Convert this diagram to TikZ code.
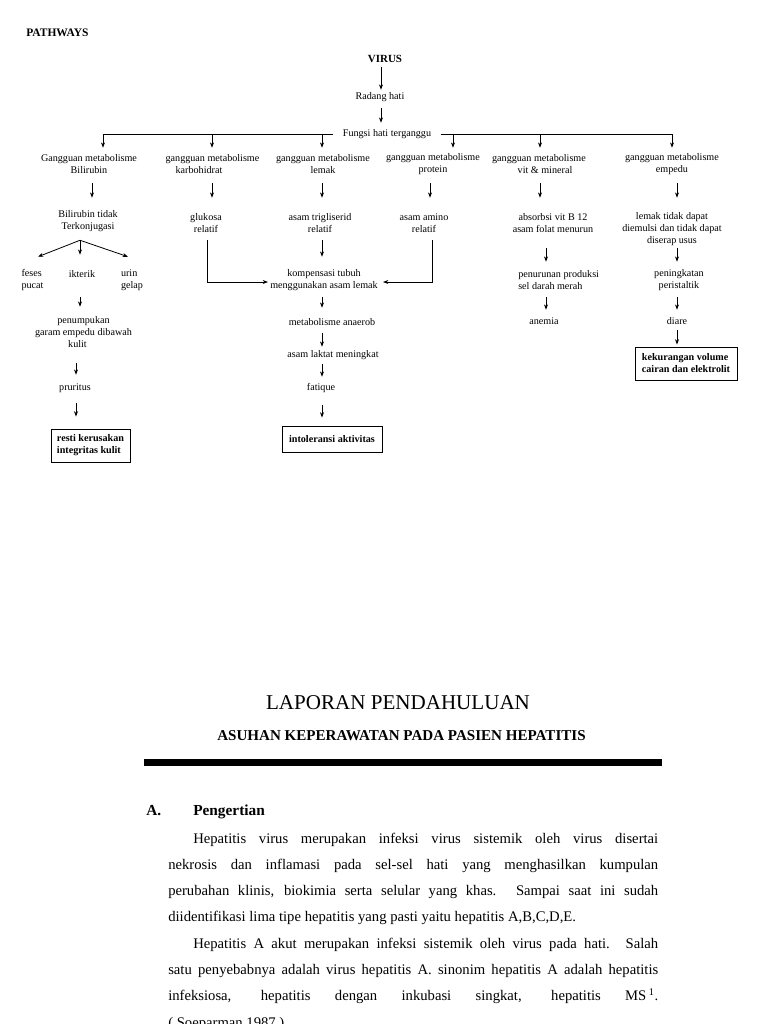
\documentclass[tikz,border=0pt]{standalone}
\usepackage{fontspec}
\setmainfont{Liberation Serif}
\usetikzlibrary{arrows.meta,calc}
\newcommand\dfont{\fontsize{7.6}{9}\selectfont}
\newcommand\dbfont{\fontsize{7.6}{9}\selectfont\bfseries}
\newcommand\bodyfont{\fontsize{11}{13}\selectfont}
\newcommand\varr[5]{\draw[arr] ($(#1.south)+(#3,#4)$) -- ($(#1.south |- #2.north)+(#3,-#5)$);}
\tikzset{
 tx/.style={inner sep=0pt, align=center, font=\dfont},
 lnA/.style={minimum height=9pt},
 lnB/.style={minimum height=18pt},
 lnC/.style={minimum height=27pt},
 arr/.style={line width=0.6pt, -{Stealth[length=4pt,width=3pt]}},
 bus/.style={line width=0.6pt},
 box/.style={draw, line width=0.7pt, font=\dbfont, align=left, inner xsep=4pt, inner ysep=0pt},
 body/.style={inner sep=0pt, anchor=base west, font=\bodyfont},
}
\begin{document}
\begin{tikzpicture}[x=0.75pt,y=-0.75pt]
\fill[white] (0,0) rectangle (768,1024);
\useasboundingbox (0,0) rectangle (768,1024);
\clip (0,0) rectangle (768,1024);

% header
\node[tx,lnA,anchor=west,font=\fontsize{8.6}{10}\selectfont\bfseries] (pw) at (26,33) {PATHWAYS};
\node[tx,lnA,font=\fontsize{8.2}{10}\selectfont\bfseries] (virus) at (385,59) {VIRUS};
\node[tx,lnA] (radang) at (380,97) {Radang hati};
\node[tx,lnA] (fungsi) at (387,134) {Fungsi hati terganggu};
\varr{virus}{radang}{-4}{2}{1}
\varr{radang}{fungsi}{1}{5}{5}

% bus
\coordinate (d1) at (103,134);
\coordinate (d2) at (212,134);
\coordinate (d3) at (322,134);
\coordinate (d4) at (453,134);
\coordinate (d5) at (540,134);
\coordinate (d6) at (672,134);
\draw[bus] ([xshift=-7pt]fungsi.west) -- (d1);
\draw[bus] ([xshift=7pt]fungsi.east) -- (d6);

% level 1
\node[tx,lnB] (g1) at (89,164) {Gangguan metabolisme\\Bilirubin};
\node[tx,lnB,align=left] (g2) at (212.5,164) {gangguan metabolisme\\\hspace*{7.5pt}karbohidrat};
\node[tx,lnB] (g3) at (323,164) {gangguan metabolisme\\lemak};
\node[tx,lnB] (g4) at (433,164) {gangguan metabolisme\\protein};
\node[tx,lnB] (g5) at (539,164) {gangguan metabolisme\\\hspace*{9pt}vit \& mineral};
\node[tx,lnB] (g6) at (672,164) {gangguan metabolisme\\empedu};
\foreach \k in {1,...,6}{\draw[arr,shorten >=3pt] (d\k) -- (d\k |- g\k.north);}

% level 2
\node[tx,lnB] (b1) at (88,221.5) {Bilirubin tidak\\Terkonjugasi};
\node[tx,lnB] (b2) at (206,223.5) {glukosa\\relatif};
\node[tx,lnB] (b3) at (320,223.5) {asam trigliserid\\relatif};
\node[tx,lnB] (b4) at (424,223.5) {asam amino\\relatif};
\node[tx,lnB] (b5) at (553,223.5) {absorbsi vit B 12\\asam folat menurun};
\node[tx,lnC] (b6) at (672,229) {lemak tidak dapat\\diemulsi dan tidak dapat\\diserap usus};
\varr{g1}{b1}{3}{7}{11.5}
\varr{g2}{b2}{-0.5}{7}{13.5}
\varr{g3}{b3}{-1}{7}{13.5}
\varr{g4}{b4}{-3}{7}{13.5}
\varr{g5}{b5}{1}{7}{13.5}
\varr{g6}{b6}{5}{7}{13}

% column 1
\coordinate (apex) at ($(b1.south)+(-8,6.5)$);
\node[tx,lnB,align=left] (feses) at (32.5,280.5) {feses\\pucat};
\node[tx,lnA] (ikterik) at (82,274) {ikterik};
\node[tx,lnB,align=left] (urin) at (132,280.5) {urin\\gelap};
\draw[arr] (apex) -- ($(feses.north)+(5.5,-11.5)$);
\draw[arr] (apex) -- ($(ikterik.north)+(-2,-13)$);
\draw[arr] (apex) -- ($(urin.north)+(-4,-11.5)$);
\node[tx,lnC] (penum) at (83.5,332) {penumpukan\\garam empedu dibawah\\kulit\hspace*{9pt}};
\varr{ikterik}{penum}{-2}{17}{7}
\node[tx,lnA] (prur) at (75,388) {pruritus};
\varr{penum}{prur}{-7.5}{13}{7}
\node[box,minimum width=59.25pt,minimum height=24.75pt] (box1) at (90.5,445.5) {resti kerusakan\\integritas kulit};
\varr{prur}{box1}{1}{9}{12}

% columns 2-4
\node[tx,lnB] (komp) at (324,280.5) {kompensasi tubuh\\menggunakan asam lemak};
\draw[arr] ($(b2.south)+(1,4.5)$) |- ($(komp.west)+(-2,1.5)$);
\draw[arr] ($(b4.south)+(8,4.5)$) |- ($(komp.east)+(5,1.5)$);
\varr{b3}{komp}{2}{4.5}{11.5}
\node[tx,lnA] (meta) at (332,322) {metabolisme anaerob};
\varr{komp}{meta}{-2}{4.5}{8}
\node[tx,lnA] (laktat) at (333,355) {asam laktat meningkat};
\varr{meta}{laktat}{-10}{5}{2}
\node[tx,lnA] (fatique) at (321,388) {fatique};
\varr{laktat}{fatique}{-11}{3}{5}
\node[box,minimum width=75pt,minimum height=19.5pt] (box2) at (332,439) {intoleransi aktivitas};
\varr{fatique}{box2}{1}{11}{8}

% column 5
\node[tx,lnB,align=left,anchor=west] (c5) at (518,280.5) {penurunan produksi\\sel darah merah};
\varr{b5}{c5}{-7}{12.5}{6.5}
\node[tx,lnA] (anemia) at (544,321) {anemia};
\draw[arr] ($(c5.south -| b5.south)+(-7,4.5)$) -- ($(anemia.north -| b5.south)+(-7,-5)$);

% column 6
\node[tx,lnB] (c6) at (679,280.5) {peningkatan\\peristaltik};
\varr{b6}{c6}{5}{1}{6.5}
\node[tx,lnA] (diare) at (677,321) {diare};
\varr{c6}{diare}{-2}{4.5}{5}
\node[box,minimum width=76.5pt,minimum height=24.75pt] (box3) at (686,363.5) {kekurangan volume\\cairan dan elektrolit};
\varr{diare}{box3}{0}{3}{2}

% report heading
\node[inner sep=0pt,anchor=base,font=\fontsize{15.8}{18}\selectfont] (title) at (398,709) {LAPORAN PENDAHULUAN};
\node[inner sep=0pt,anchor=base,font=\fontsize{11.3}{13}\selectfont\bfseries] (subtitle) at (401.5,740) {ASUHAN KEPERAWATAN PADA PASIEN HEPATITIS};
\fill (144,759) rectangle (662,766);

\node[body,font=\fontsize{11.5}{13}\selectfont\bfseries] (secA) at (146,815) {A.};
\node[body,font=\fontsize{11.5}{13}\selectfont\bfseries] (secT) at (193,815) {Pengertian};
\node[body] (p1) at (193,843) {\makebox[348.75pt][s]{Hepatitis virus merupakan infeksi virus sistemik oleh virus disertai}};
\node[body] (p2) at (168,869.3) {\makebox[367.5pt][s]{nekrosis dan inflamasi pada sel-sel hati yang menghasilkan kumpulan}};
\node[body] (p3) at (168,895.6) {\makebox[367.5pt][s]{perubahan klinis, biokimia serta selular yang khas. Sampai saat ini sudah}};
\node[body] (p4) at (168,921.9) {diidentifikasi lima tipe hepatitis yang pasti yaitu hepatitis A,B,C,D,E.};
\node[body] (p5) at (193,948.2) {\makebox[348.75pt][s]{Hepatitis A akut merupakan infeksi sistemik oleh virus pada hati. Salah}};
\node[body] (p6) at (168,974.5) {\makebox[367.5pt][s]{satu penyebabnya adalah virus hepatitis A. sinonim hepatitis A adalah hepatitis}};
\node[body] (p7) at (168,1000.8) {\makebox[367.5pt][s]{infeksiosa, hepatitis dengan inkubasi singkat, hepatitis MS\,\textsuperscript{1}.}};
\node[body] (p8) at (168,1027.1) {( Soeparman 1987 )};
\end{tikzpicture}
\end{document}
